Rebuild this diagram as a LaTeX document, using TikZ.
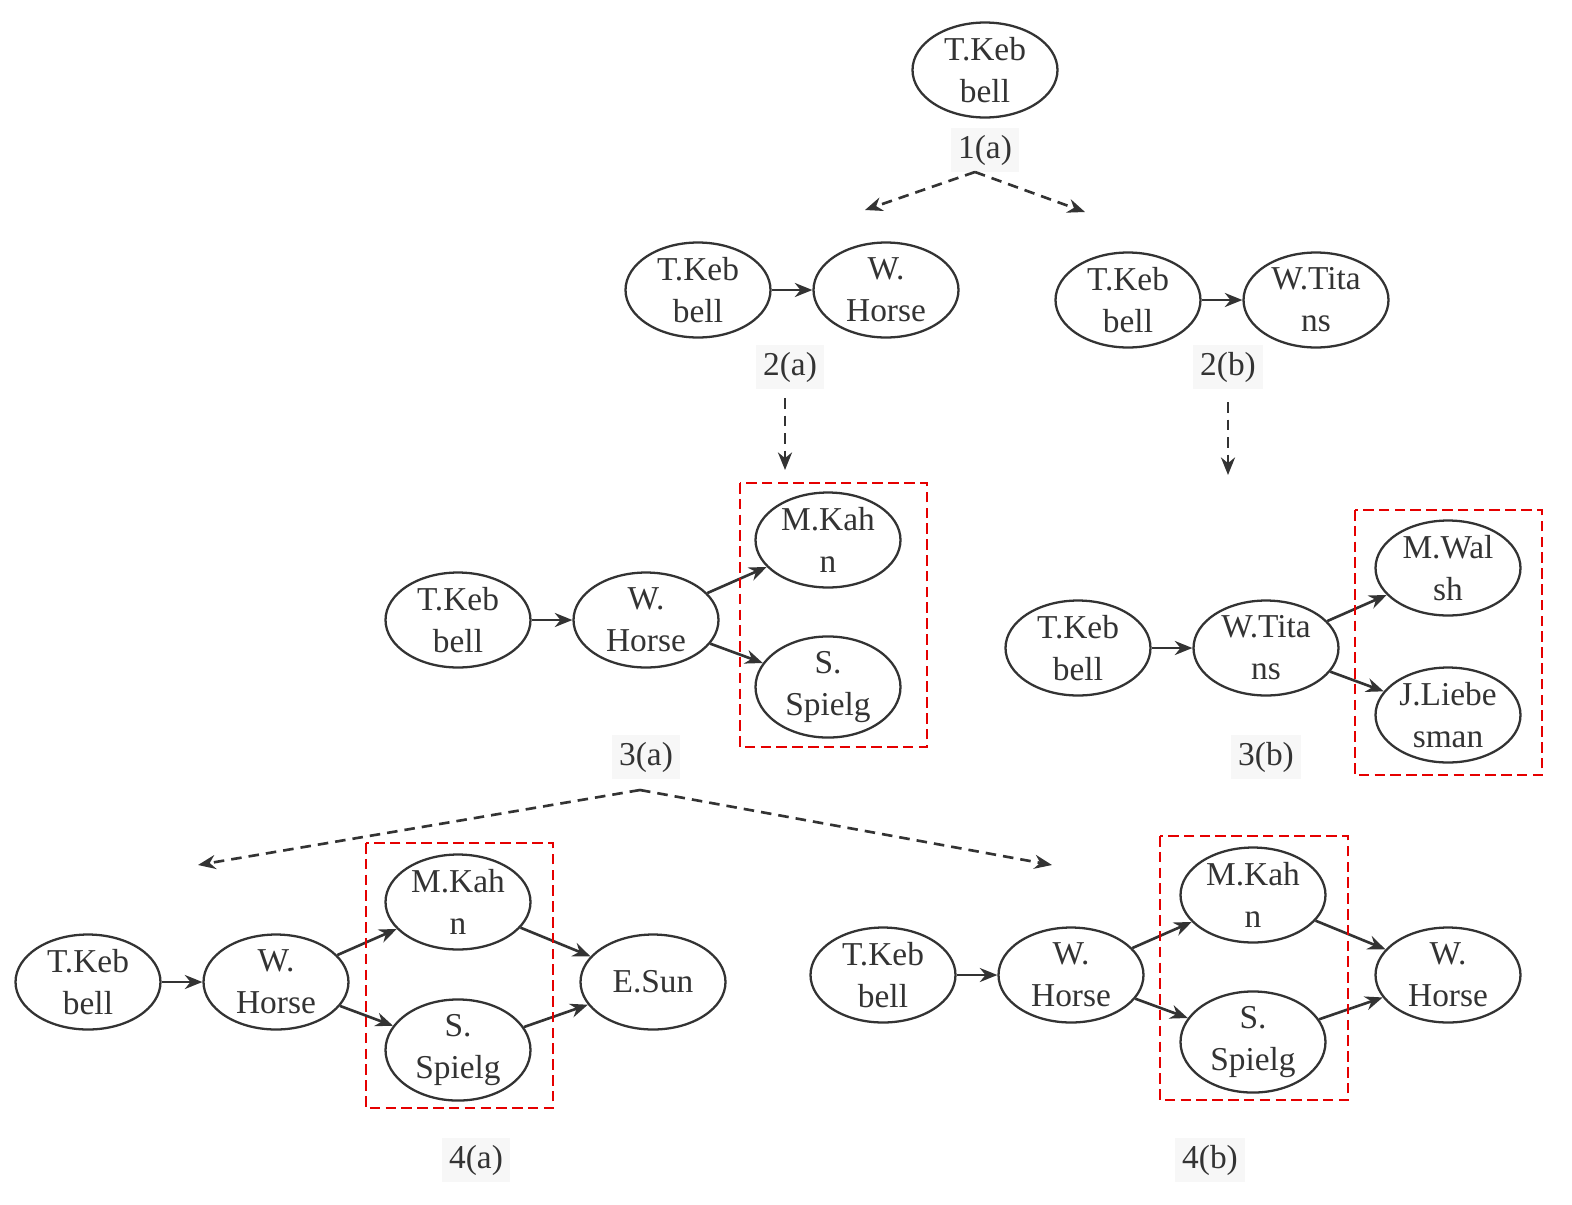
\documentclass[tikz,border=0pt]{standalone}
\usepackage{fontspec}
\setmainfont{Liberation Serif}
\usetikzlibrary{shapes.geometric,arrows.meta}
\definecolor{dk}{HTML}{333333}
\begin{document}
\begin{tikzpicture}[x=0.02cm,y=-0.02cm,
 el/.style={ellipse,draw=dk,line width=1.3pt,minimum width=2.9cm,minimum height=1.9cm,inner sep=0pt,align=center,font=\fontsize{19}{24}\selectfont,text=dk},
 lb/.style={fill=gray!6,inner sep=4pt,font=\fontsize{19}{24}\selectfont,text=dk},
 ar/.style={draw=dk,line width=1.5pt,-{Stealth[length=10pt,width=8pt]}},
 da/.style={ar,dashed,dash pattern=on 6pt off 4pt},
 rb/.style={draw=red!90!black,line width=1.3pt,dash pattern=on 6pt off 3pt}]
\useasboundingbox (0,0) rectangle (1572,1204);
% 1(a)
\node[el] (a1) at (985,70) {T.Keb\\bell};
\node[lb] (l1) at (985,150) {1(a)};
\coordinate (s1) at (975,172);
\coordinate (e1a) at (865,210);
\coordinate (e1b) at (1085,212);
\draw[da] (s1) -- (e1a);
\draw[da] (s1) -- (e1b);
% 2(a)
\node[el] (b1) at (698,290) {T.Keb\\bell};
\node[el] (b2) at (886,290) {W.\\Horse};
\draw[ar] (b1) -- (b2);
\node[lb] (l2a) at (790,367) {2(a)};
\coordinate (s2a) at (785,398); \coordinate (e2a) at (785,470);
\draw[da] (s2a) -- (e2a);
% 2(b)
\node[el] (c1) at (1128,300) {T.Keb\\bell};
\node[el] (c2) at (1316,300) {W.Tita\\ns};
\draw[ar] (c1) -- (c2);
\node[lb] (l2b) at (1228,367) {2(b)};
\coordinate (s2b) at (1228,402); \coordinate (e2b) at (1228,475);
\draw[da] (s2b) -- (e2b);
% 3(a)
\node[el] (d1) at (458,620) {T.Keb\\bell};
\node[el] (d2) at (646,620) {W.\\Horse};
\node[el] (d3) at (828,540) {M.Kah\\n};
\node[el] (d4) at (828,687) {S.\\Spielg};
\draw[ar] (d1) -- (d2); \draw[ar] (d2) -- (d3); \draw[ar] (d2) -- (d4);
\draw[rb] (740,483) rectangle (927,747);
\node[lb] (l3a) at (646,757) {3(a)};
\coordinate (s3) at (640,790);
\coordinate (e3a) at (198,865); \coordinate (e3b) at (1052,865);
\draw[da] (s3) -- (e3a); \draw[da] (s3) -- (e3b);
% 3(b)
\node[el] (f1) at (1078,648) {T.Keb\\bell};
\node[el] (f2) at (1266,648) {W.Tita\\ns};
\node[el] (f3) at (1448,568) {M.Wal\\sh};
\node[el] (f4) at (1448,715) {J.Liebe\\sman};
\draw[ar] (f1) -- (f2); \draw[ar] (f2) -- (f3); \draw[ar] (f2) -- (f4);
\draw[rb] (1355,510) rectangle (1542,775);
\node[lb] (l3b) at (1266,757) {3(b)};
% 4(a)
\node[el] (g1) at (88,982) {T.Keb\\bell};
\node[el] (g2) at (276,982) {W.\\Horse};
\node[el] (g3) at (458,902) {M.Kah\\n};
\node[el] (g4) at (458,1050) {S.\\Spielg};
\node[el] (g5) at (653,982) {E.Sun};
\draw[ar] (g1) -- (g2); \draw[ar] (g2) -- (g3); \draw[ar] (g2) -- (g4);
\draw[ar] (g3) -- (g5); \draw[ar] (g4) -- (g5);
\draw[rb] (366,843) rectangle (553,1108);
\node[lb] (l4a) at (476,1160) {4(a)};
% 4(b)
\node[el] (h1) at (883,975) {T.Keb\\bell};
\node[el] (h2) at (1071,975) {W.\\Horse};
\node[el] (h3) at (1253,895) {M.Kah\\n};
\node[el] (h4) at (1253,1042) {S.\\Spielg};
\node[el] (h5) at (1448,975) {W.\\Horse};
\draw[ar] (h1) -- (h2); \draw[ar] (h2) -- (h3); \draw[ar] (h2) -- (h4);
\draw[ar] (h3) -- (h5); \draw[ar] (h4) -- (h5);
\draw[rb] (1160,836) rectangle (1348,1100);
\node[lb] (l4b) at (1210,1160) {4(b)};
\end{tikzpicture}
\end{document}
